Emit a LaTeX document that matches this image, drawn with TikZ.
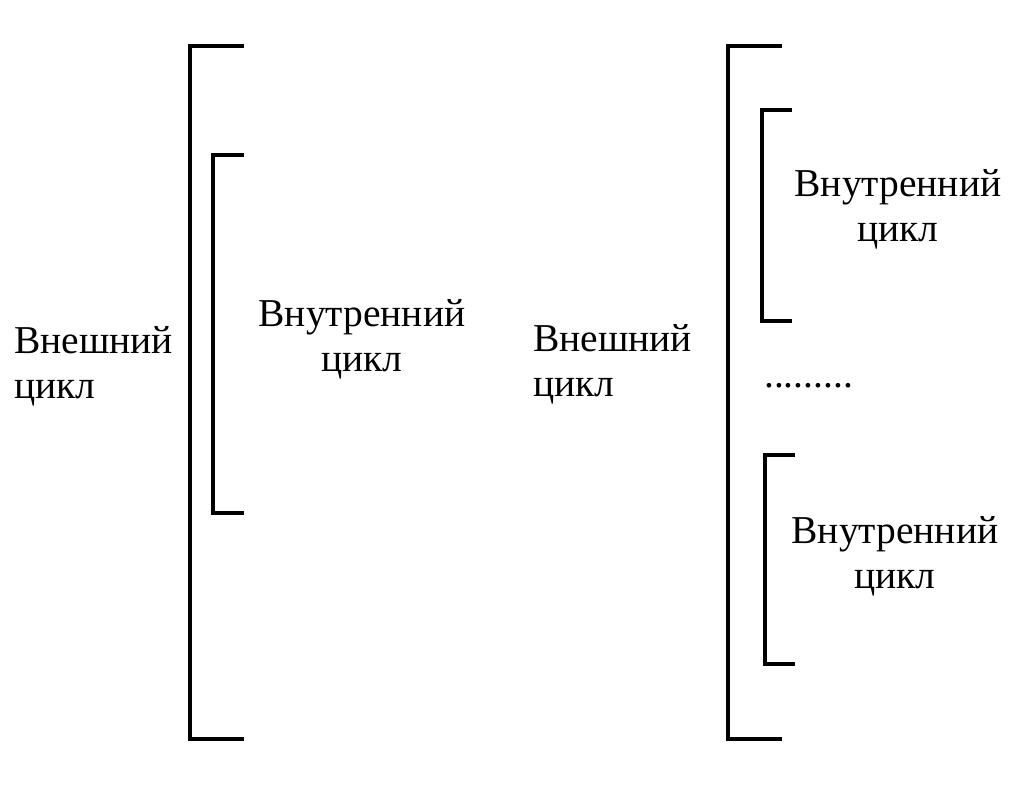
\documentclass[tikz,border=0pt]{standalone}
\usepackage{fontspec}
\setmainfont{Liberation Serif}
\begin{document}
\begin{tikzpicture}[x=1pt,y=-1pt,
  br/.style={line width=3.5pt},
  lbl/.style={font=\fontsize{39.5}{45}\selectfont, inner sep=0pt}]
\useasboundingbox (0,0) rectangle (1024,786);
\draw[br] (244,46) -- (190,46) -- (190,739) -- (244,739);
\draw[br] (244,155) -- (213,155) -- (213,513) -- (244,513);
\draw[br] (782,46) -- (728,46) -- (728,739) -- (782,739);
\draw[br] (792,110) -- (762,110) -- (762,321) -- (792,321);
\draw[br] (795,455) -- (765,455) -- (765,664) -- (795,664);
\node[lbl, anchor=west, align=left] (o1) at (14,366) {Внешний\\цикл};
\node[lbl, align=center] (i1) at (362,339) {Внутренний\\цикл};
\node[lbl, anchor=west, align=left] (o2) at (533,364) {Внешний\\цикл};
\node[lbl, align=center] (i2) at (898,209) {Внутренний\\цикл};
\node[lbl, align=center] (i3) at (895,556) {Внутренний\\цикл};
\node[lbl, anchor=west] (d) at (764,386) {.........};
\end{tikzpicture}
\end{document}
